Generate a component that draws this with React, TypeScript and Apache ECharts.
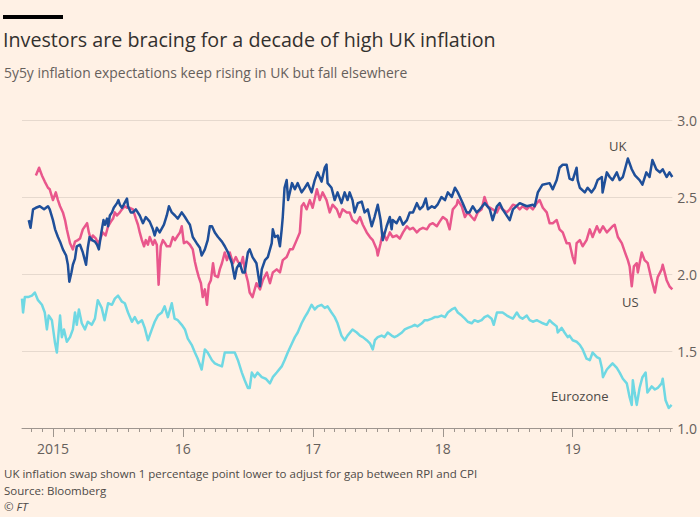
import React, { useEffect, useRef } from "react";
import * as echarts from "echarts";

// 5y5y forward inflation swap rates, %
const ukSeries: [string, number][] = [
  ["2014-10-25", 2.35], ["2014-10-30", 2.3], ["2014-11-06", 2.42], ["2014-11-14", 2.43], ["2014-11-25", 2.44],
  ["2014-12-07", 2.42], ["2014-12-18", 2.44], ["2014-12-23", 2.42], ["2015-01-01", 2.35], ["2015-01-07", 2.29],
  ["2015-01-15", 2.24], ["2015-01-21", 2.21], ["2015-01-29", 2.16], ["2015-02-07", 2.12], ["2015-02-12", 2.06],
  ["2015-02-16", 1.95], ["2015-02-22", 2.01], ["2015-02-26", 2.06], ["2015-03-04", 2.1], ["2015-03-09", 2.18],
  ["2015-03-18", 2.19], ["2015-03-26", 2.14], ["2015-04-04", 2.06], ["2015-04-09", 2.17], ["2015-04-14", 2.24],
  ["2015-04-21", 2.22], ["2015-04-29", 2.21], ["2015-05-05", 2.19], ["2015-05-10", 2.16], ["2015-05-17", 2.27],
  ["2015-05-23", 2.35], ["2015-05-27", 2.32], ["2015-06-02", 2.36], ["2015-06-05", 2.31], ["2015-06-10", 2.38],
  ["2015-06-16", 2.4], ["2015-06-21", 2.43], ["2015-06-30", 2.46], ["2015-07-04", 2.48], ["2015-07-08", 2.45],
  ["2015-07-14", 2.43], ["2015-07-19", 2.45], ["2015-07-28", 2.49], ["2015-07-31", 2.44], ["2015-08-08", 2.4],
  ["2015-08-14", 2.4], ["2015-08-22", 2.42], ["2015-09-02", 2.38], ["2015-09-11", 2.33], ["2015-09-19", 2.37],
  ["2015-09-30", 2.34], ["2015-10-09", 2.29], ["2015-10-14", 2.25], ["2015-10-20", 2.3], ["2015-10-28", 2.27],
  ["2015-11-09", 2.32], ["2015-11-17", 2.38], ["2015-11-23", 2.44], ["2015-12-01", 2.4], ["2015-12-10", 2.38],
  ["2015-12-18", 2.36], ["2015-12-29", 2.4], ["2016-01-07", 2.37], ["2016-01-15", 2.34], ["2016-01-21", 2.32],
  ["2016-01-29", 2.24], ["2016-02-09", 2.2], ["2016-02-18", 2.17], ["2016-02-23", 2.12], ["2016-03-03", 2.16],
  ["2016-03-11", 2.22], ["2016-03-17", 2.31], ["2016-03-23", 2.31], ["2016-03-31", 2.27], ["2016-04-09", 2.24],
  ["2016-04-20", 2.21], ["2016-04-28", 2.18], ["2016-05-07", 2.14], ["2016-05-18", 2.07], ["2016-05-26", 1.97],
  ["2016-06-01", 2.04], ["2016-06-09", 2.07], ["2016-06-17", 2.01], ["2016-06-23", 2.01], ["2016-07-02", 2.14],
  ["2016-07-07", 2.16], ["2016-07-15", 2.11], ["2016-07-26", 2.07], ["2016-08-05", 1.92], ["2016-08-10", 2.03],
  ["2016-08-19", 2.09], ["2016-08-27", 2.11], ["2016-09-07", 2.2], ["2016-09-10", 2.29], ["2016-09-16", 2.24],
  ["2016-09-24", 2.25], ["2016-09-30", 2.18], ["2016-10-05", 2.29], ["2016-10-08", 2.37], ["2016-10-13", 2.56],
  ["2016-10-19", 2.61], ["2016-10-23", 2.48], ["2016-11-03", 2.59], ["2016-11-11", 2.55], ["2016-11-19", 2.59],
  ["2016-11-30", 2.53], ["2016-12-09", 2.56], ["2016-12-17", 2.59], ["2016-12-28", 2.53], ["2017-01-06", 2.61],
  ["2017-01-14", 2.66], ["2017-01-25", 2.6], ["2017-02-03", 2.69], ["2017-02-08", 2.71], ["2017-02-11", 2.59],
  ["2017-02-22", 2.56], ["2017-03-03", 2.48], ["2017-03-11", 2.53], ["2017-03-22", 2.46], ["2017-03-31", 2.53],
  ["2017-04-08", 2.48], ["2017-04-14", 2.53], ["2017-04-22", 2.48], ["2017-04-28", 2.4], ["2017-05-07", 2.46],
  ["2017-05-18", 2.47], ["2017-05-26", 2.4], ["2017-06-04", 2.42], ["2017-06-15", 2.31], ["2017-06-23", 2.37],
  ["2017-07-02", 2.45], ["2017-07-10", 2.35], ["2017-07-16", 2.22], ["2017-07-27", 2.31], ["2017-08-05", 2.37],
  ["2017-08-10", 2.29], ["2017-08-13", 2.35], ["2017-08-24", 2.33], ["2017-09-02", 2.37], ["2017-09-11", 2.32],
  ["2017-09-22", 2.35], ["2017-09-30", 2.4], ["2017-10-09", 2.4], ["2017-10-20", 2.46], ["2017-10-28", 2.42],
  ["2017-11-06", 2.44], ["2017-11-14", 2.49], ["2017-11-20", 2.42], ["2017-12-01", 2.44], ["2017-12-09", 2.43],
  ["2017-12-17", 2.45], ["2017-12-28", 2.5], ["2018-01-07", 2.48], ["2018-01-15", 2.53], ["2018-01-26", 2.5],
  ["2018-02-04", 2.56], ["2018-02-12", 2.53], ["2018-02-18", 2.5], ["2018-02-26", 2.46], ["2018-03-09", 2.4],
  ["2018-03-17", 2.4], ["2018-03-26", 2.44], ["2018-04-06", 2.4], ["2018-04-15", 2.42], ["2018-04-29", 2.46],
  ["2018-05-13", 2.42], ["2018-05-21", 2.35], ["2018-06-02", 2.44], ["2018-06-10", 2.46], ["2018-06-18", 2.42],
  ["2018-07-08", 2.35], ["2018-07-17", 2.42], ["2018-08-05", 2.46], ["2018-08-25", 2.44], ["2018-09-11", 2.45],
  ["2018-09-16", 2.44], ["2018-09-25", 2.53], ["2018-09-30", 2.55], ["2018-10-08", 2.58], ["2018-10-28", 2.59],
  ["2018-11-06", 2.55], ["2018-11-17", 2.61], ["2018-11-25", 2.69], ["2018-12-04", 2.71], ["2018-12-15", 2.71],
  ["2018-12-23", 2.62], ["2019-01-01", 2.61], ["2019-01-12", 2.69], ["2019-01-15", 2.61], ["2019-01-21", 2.56],
  ["2019-02-04", 2.53], ["2019-02-12", 2.56], ["2019-02-23", 2.53], ["2019-03-04", 2.56], ["2019-03-12", 2.61],
  ["2019-03-24", 2.63], ["2019-03-26", 2.53], ["2019-04-07", 2.66], ["2019-04-15", 2.63], ["2019-04-23", 2.61],
  ["2019-05-05", 2.66], ["2019-05-13", 2.61], ["2019-05-22", 2.63], ["2019-06-05", 2.75], ["2019-06-16", 2.68],
  ["2019-06-25", 2.64], ["2019-07-08", 2.61], ["2019-07-16", 2.58], ["2019-07-27", 2.66], ["2019-08-05", 2.63],
  ["2019-08-13", 2.74], ["2019-08-24", 2.68], ["2019-09-03", 2.66], ["2019-09-11", 2.68], ["2019-09-22", 2.63],
  ["2019-09-30", 2.66], ["2019-10-08", 2.63],
];

const usSeries: [string, number][] = [
  ["2014-11-14", 2.64], ["2014-11-23", 2.69], ["2014-12-01", 2.64], ["2014-12-09", 2.6], ["2014-12-18", 2.56],
  ["2014-12-23", 2.55], ["2015-01-01", 2.48], ["2015-01-09", 2.53], ["2015-01-15", 2.48], ["2015-01-21", 2.44],
  ["2015-01-29", 2.4], ["2015-02-04", 2.35], ["2015-02-09", 2.29], ["2015-02-18", 2.2], ["2015-02-26", 2.16],
  ["2015-03-04", 2.21], ["2015-03-12", 2.22], ["2015-03-18", 2.23], ["2015-03-26", 2.29], ["2015-04-07", 2.33],
  ["2015-04-12", 2.27], ["2015-04-18", 2.22], ["2015-04-23", 2.25], ["2015-05-02", 2.23], ["2015-05-07", 2.2],
  ["2015-05-13", 2.22], ["2015-05-21", 2.27], ["2015-05-29", 2.25], ["2015-06-05", 2.31], ["2015-06-13", 2.34],
  ["2015-06-19", 2.36], ["2015-06-24", 2.4], ["2015-06-30", 2.38], ["2015-07-08", 2.4], ["2015-07-14", 2.42],
  ["2015-07-22", 2.44], ["2015-07-28", 2.43], ["2015-08-05", 2.43], ["2015-08-14", 2.42], ["2015-08-22", 2.36],
  ["2015-08-28", 2.32], ["2015-09-02", 2.27], ["2015-09-08", 2.22], ["2015-09-14", 2.18], ["2015-09-19", 2.22],
  ["2015-09-25", 2.19], ["2015-09-30", 2.24], ["2015-10-09", 2.19], ["2015-10-14", 2.22], ["2015-10-20", 2.19],
  ["2015-10-25", 1.93], ["2015-10-31", 2.18], ["2015-11-06", 2.22], ["2015-11-12", 2.2], ["2015-11-17", 2.18],
  ["2015-11-26", 2.18], ["2015-12-04", 2.24], ["2015-12-10", 2.22], ["2015-12-18", 2.25], ["2015-12-24", 2.27],
  ["2015-12-29", 2.31], ["2016-01-04", 2.2], ["2016-01-12", 2.21], ["2016-01-21", 2.19], ["2016-01-29", 2.16],
  ["2016-02-04", 2.08], ["2016-02-09", 2.03], ["2016-02-15", 1.98], ["2016-02-21", 1.94], ["2016-02-26", 1.85],
  ["2016-03-03", 1.9], ["2016-03-09", 1.8], ["2016-03-14", 1.93], ["2016-03-20", 1.96], ["2016-03-26", 2.07],
  ["2016-03-31", 1.99], ["2016-04-09", 1.98], ["2016-04-14", 2.03], ["2016-04-20", 2.07], ["2016-04-28", 2.14],
  ["2016-05-04", 2.09], ["2016-05-12", 2.14], ["2016-05-21", 2.07], ["2016-05-29", 2.11], ["2016-06-04", 2.08],
  ["2016-06-12", 2.06], ["2016-06-18", 2.11], ["2016-06-23", 2.03], ["2016-07-02", 1.95], ["2016-07-07", 1.88],
  ["2016-07-15", 1.85], ["2016-07-26", 1.94], ["2016-08-05", 1.9], ["2016-08-13", 1.96], ["2016-08-24", 2.01],
  ["2016-09-02", 1.94], ["2016-09-10", 2.01], ["2016-09-21", 2.03], ["2016-09-30", 2.01], ["2016-10-08", 2.09],
  ["2016-10-19", 2.11], ["2016-10-28", 2.16], ["2016-11-05", 2.16], ["2016-11-16", 2.22], ["2016-11-25", 2.27],
  ["2016-11-30", 2.44], ["2016-12-06", 2.46], ["2016-12-14", 2.42], ["2016-12-23", 2.48], ["2016-12-31", 2.43],
  ["2017-01-12", 2.55], ["2017-01-20", 2.48], ["2017-01-28", 2.53], ["2017-02-08", 2.48], ["2017-02-17", 2.4],
  ["2017-02-25", 2.45], ["2017-03-09", 2.42], ["2017-03-17", 2.37], ["2017-03-25", 2.42], ["2017-04-06", 2.4],
  ["2017-04-14", 2.4], ["2017-04-22", 2.35], ["2017-05-04", 2.33], ["2017-05-13", 2.37], ["2017-05-21", 2.32],
  ["2017-06-01", 2.27], ["2017-06-10", 2.24], ["2017-06-18", 2.22], ["2017-06-29", 2.16], ["2017-07-02", 2.12],
  ["2017-07-10", 2.2], ["2017-07-16", 2.27], ["2017-07-27", 2.22], ["2017-08-05", 2.27], ["2017-08-13", 2.24],
  ["2017-08-24", 2.25], ["2017-09-02", 2.23], ["2017-09-11", 2.27], ["2017-09-22", 2.31], ["2017-09-30", 2.29],
  ["2017-10-09", 2.3], ["2017-10-20", 2.27], ["2017-10-28", 2.29], ["2017-11-06", 2.3], ["2017-11-17", 2.29],
  ["2017-11-25", 2.32], ["2017-12-04", 2.33], ["2017-12-15", 2.31], ["2017-12-23", 2.34], ["2018-01-01", 2.37],
  ["2018-01-12", 2.35], ["2018-01-20", 2.29], ["2018-01-29", 2.42], ["2018-02-09", 2.45], ["2018-02-12", 2.48],
  ["2018-02-23", 2.44], ["2018-03-04", 2.37], ["2018-03-12", 2.4], ["2018-03-23", 2.37], ["2018-03-31", 2.35],
  ["2018-04-09", 2.4], ["2018-04-20", 2.42], ["2018-04-28", 2.5], ["2018-05-07", 2.44], ["2018-05-21", 2.42],
  ["2018-06-02", 2.4], ["2018-06-10", 2.44], ["2018-06-18", 2.42], ["2018-06-30", 2.4], ["2018-07-08", 2.42],
  ["2018-07-17", 2.45], ["2018-07-28", 2.44], ["2018-08-05", 2.42], ["2018-08-13", 2.44], ["2018-08-25", 2.42],
  ["2018-09-02", 2.44], ["2018-09-11", 2.42], ["2018-09-22", 2.46], ["2018-09-30", 2.48], ["2018-10-09", 2.43],
  ["2018-10-20", 2.4], ["2018-10-28", 2.33], ["2018-11-06", 2.33], ["2018-11-17", 2.35], ["2018-11-25", 2.29],
  ["2018-12-04", 2.27], ["2018-12-15", 2.2], ["2018-12-23", 2.2], ["2019-01-01", 2.11], ["2019-01-07", 2.07],
  ["2019-01-12", 2.2], ["2019-01-21", 2.22], ["2019-01-29", 2.18], ["2019-02-09", 2.22], ["2019-02-18", 2.29],
  ["2019-02-26", 2.24], ["2019-03-10", 2.31], ["2019-03-18", 2.27], ["2019-03-27", 2.31], ["2019-04-07", 2.27],
  ["2019-04-15", 2.29], ["2019-04-23", 2.31], ["2019-04-29", 2.32], ["2019-05-08", 2.24], ["2019-05-19", 2.2],
  ["2019-05-28", 2.14], ["2019-06-05", 2.09], ["2019-06-10", 2.05], ["2019-06-16", 1.92], ["2019-06-22", 2.05],
  ["2019-06-30", 2.07], ["2019-07-03", 2.01], ["2019-07-14", 2.14], ["2019-07-22", 2.09], ["2019-07-31", 2.07],
  ["2019-08-06", 2.01], ["2019-08-11", 1.96], ["2019-08-20", 1.88], ["2019-08-28", 1.98], ["2019-09-08", 2.03],
  ["2019-09-11", 2.06], ["2019-09-22", 1.96], ["2019-09-30", 1.92], ["2019-10-08", 1.9],
];

const eurozoneSeries: [string, number][] = [
  ["2014-10-06", 1.84], ["2014-10-09", 1.75], ["2014-10-14", 1.85], ["2014-10-23", 1.85], ["2014-11-03", 1.86],
  ["2014-11-11", 1.88], ["2014-11-20", 1.83], ["2014-12-01", 1.8], ["2014-12-09", 1.75], ["2014-12-15", 1.64],
  ["2014-12-20", 1.73], ["2014-12-29", 1.7], ["2015-01-07", 1.55], ["2015-01-12", 1.49], ["2015-01-21", 1.73],
  ["2015-01-26", 1.59], ["2015-02-01", 1.64], ["2015-02-09", 1.56], ["2015-02-18", 1.59], ["2015-02-26", 1.64],
  ["2015-03-04", 1.75], ["2015-03-09", 1.67], ["2015-03-15", 1.77], ["2015-03-23", 1.68], ["2015-04-01", 1.64],
  ["2015-04-09", 1.69], ["2015-04-20", 1.67], ["2015-04-29", 1.71], ["2015-05-07", 1.83], ["2015-05-18", 1.78],
  ["2015-05-26", 1.7], ["2015-06-05", 1.81], ["2015-06-16", 1.8], ["2015-06-24", 1.84], ["2015-07-03", 1.86],
  ["2015-07-14", 1.82], ["2015-07-22", 1.81], ["2015-07-31", 1.75], ["2015-08-11", 1.69], ["2015-08-19", 1.72],
  ["2015-08-28", 1.68], ["2015-09-08", 1.7], ["2015-09-16", 1.65], ["2015-09-25", 1.57], ["2015-10-06", 1.64],
  ["2015-10-14", 1.69], ["2015-10-23", 1.73], ["2015-11-03", 1.75], ["2015-11-11", 1.79], ["2015-11-20", 1.72],
  ["2015-12-01", 1.81], ["2015-12-09", 1.71], ["2015-12-18", 1.7], ["2015-12-29", 1.67], ["2016-01-07", 1.64],
  ["2016-01-15", 1.58], ["2016-01-26", 1.54], ["2016-02-04", 1.49], ["2016-02-12", 1.45], ["2016-02-23", 1.38],
  ["2016-03-03", 1.51], ["2016-03-11", 1.49], ["2016-03-23", 1.44], ["2016-03-31", 1.42], ["2016-04-09", 1.41],
  ["2016-04-20", 1.4], ["2016-04-28", 1.49], ["2016-05-07", 1.49], ["2016-05-18", 1.49], ["2016-05-26", 1.49],
  ["2016-06-04", 1.44], ["2016-06-15", 1.36], ["2016-06-23", 1.31], ["2016-07-02", 1.26], ["2016-07-07", 1.26],
  ["2016-07-13", 1.36], ["2016-07-21", 1.33], ["2016-07-29", 1.36], ["2016-08-10", 1.33], ["2016-08-21", 1.32],
  ["2016-09-02", 1.29], ["2016-09-10", 1.33], ["2016-09-21", 1.36], ["2016-10-05", 1.4], ["2016-10-13", 1.44],
  ["2016-10-22", 1.49], ["2016-11-03", 1.55], ["2016-11-11", 1.59], ["2016-11-19", 1.62], ["2016-11-30", 1.68],
  ["2016-12-09", 1.72], ["2016-12-17", 1.75], ["2016-12-28", 1.8], ["2017-01-06", 1.77], ["2017-01-14", 1.79],
  ["2017-01-25", 1.8], ["2017-02-03", 1.78], ["2017-02-11", 1.79], ["2017-02-22", 1.75], ["2017-03-03", 1.72],
  ["2017-03-11", 1.68], ["2017-03-22", 1.6], ["2017-03-31", 1.57], ["2017-04-08", 1.6], ["2017-04-22", 1.64],
  ["2017-05-04", 1.62], ["2017-05-13", 1.6], ["2017-05-21", 1.59], ["2017-06-01", 1.57], ["2017-06-10", 1.55],
  ["2017-06-18", 1.51], ["2017-06-24", 1.57], ["2017-07-02", 1.59], ["2017-07-13", 1.6], ["2017-07-21", 1.59],
  ["2017-07-30", 1.62], ["2017-08-10", 1.6], ["2017-08-18", 1.59], ["2017-08-27", 1.6], ["2017-09-08", 1.62],
  ["2017-09-16", 1.64], ["2017-09-25", 1.65], ["2017-10-06", 1.66], ["2017-10-14", 1.67], ["2017-10-22", 1.66],
  ["2017-11-03", 1.68], ["2017-11-11", 1.7], ["2017-11-20", 1.7], ["2017-12-01", 1.71], ["2017-12-09", 1.72],
  ["2017-12-17", 1.72], ["2017-12-28", 1.73], ["2018-01-07", 1.72], ["2018-01-15", 1.75], ["2018-01-26", 1.77],
  ["2018-02-04", 1.78], ["2018-02-12", 1.75], ["2018-02-23", 1.73], ["2018-03-04", 1.71], ["2018-03-12", 1.69],
  ["2018-03-23", 1.68], ["2018-03-31", 1.7], ["2018-04-09", 1.69], ["2018-04-20", 1.7], ["2018-04-28", 1.72],
  ["2018-05-07", 1.73], ["2018-05-18", 1.71], ["2018-05-24", 1.67], ["2018-06-02", 1.75], ["2018-06-10", 1.75],
  ["2018-06-18", 1.75], ["2018-06-30", 1.73], ["2018-07-08", 1.72], ["2018-07-17", 1.71], ["2018-07-28", 1.75],
  ["2018-08-05", 1.72], ["2018-08-13", 1.71], ["2018-08-25", 1.73], ["2018-09-02", 1.7], ["2018-09-11", 1.69],
  ["2018-09-22", 1.7], ["2018-09-30", 1.69], ["2018-10-09", 1.68], ["2018-10-20", 1.67], ["2018-10-28", 1.7],
  ["2018-11-06", 1.68], ["2018-11-17", 1.66], ["2018-11-20", 1.62], ["2018-12-01", 1.65], ["2018-12-09", 1.62],
  ["2018-12-18", 1.59], ["2018-12-23", 1.6], ["2019-01-01", 1.57], ["2019-01-12", 1.56], ["2019-01-21", 1.54],
  ["2019-01-29", 1.51], ["2019-02-09", 1.45], ["2019-02-18", 1.44], ["2019-02-26", 1.49], ["2019-03-10", 1.46],
  ["2019-03-18", 1.45], ["2019-03-24", 1.39], ["2019-03-27", 1.33], ["2019-04-07", 1.38], ["2019-04-15", 1.4],
  ["2019-04-23", 1.42], ["2019-05-05", 1.39], ["2019-05-13", 1.36], ["2019-05-22", 1.32], ["2019-06-02", 1.29],
  ["2019-06-10", 1.2], ["2019-06-16", 1.15], ["2019-06-19", 1.31], ["2019-06-24", 1.23], ["2019-06-30", 1.15],
  ["2019-07-08", 1.26], ["2019-07-16", 1.33], ["2019-07-25", 1.36], ["2019-07-30", 1.23], ["2019-08-11", 1.27],
  ["2019-08-20", 1.25], ["2019-08-28", 1.26], ["2019-09-08", 1.29], ["2019-09-11", 1.32], ["2019-09-19", 1.18],
  ["2019-09-28", 1.13], ["2019-10-06", 1.15],
];

const yearTicks = ["2015-01-01", "2016-01-01", "2017-01-01", "2018-01-01", "2019-01-01"];
const yearLabels = ["2015", "16", "17", "18", "19"];
const yAxisTicks = [1.0, 1.5, 2.0, 2.5, 3.0];
const axisStart = "2014-10-06";
const axisEnd = "2019-10-08";

const FONT = "'Open Sans', 'Noto Sans', sans-serif";
const GREY = "#66605c";
const INK = "#33302e";
const NOTE = "#4e4a47";

// dates are plotted as UTC timestamps on a numeric axis
const ts = (d: string) => Date.parse(d + "T00:00:00Z");

function monthStarts(): number[] {
  const out: number[] = [];
  const lo = ts(axisStart);
  const hi = ts(axisEnd);
  for (let y = 2014; y <= 2019; y++) {
    for (let m = 0; m < 12; m++) {
      const t = Date.UTC(y, m, 1);
      if (t > lo && t <= hi) out.push(t);
    }
  }
  return out;
}

const toPoints = (rows: [string, number][]) => rows.map(([d, v]) => [ts(d), v]);

export default function App() {
  const ref = useRef<HTMLDivElement>(null);

  useEffect(() => {
    document.body.style.margin = "0";
    document.body.style.background = "#fff1e5";
    if (!ref.current) return;
    const chart = echarts.init(ref.current, undefined, { renderer: "svg" });

    const yearStamps = yearTicks.map(ts);
    const yearLabelFor = (val: number) => {
      const idx = yearStamps.findIndex((t) => Math.abs(t - val) < 86400000);
      return idx >= 0 ? yearLabels[idx] : "";
    };

    const lineSeries = (name: string, data: [string, number][], color: string) => ({
      name,
      type: "line",
      data: toPoints(data),
      showSymbol: false,
      symbol: "none",
      smooth: false,
      lineStyle: { color, width: 2.5, join: "round" },
      itemStyle: { color },
      xAxisIndex: 0,
      yAxisIndex: 0,
    });

    chart.setOption({
      animation: false,
      backgroundColor: "#fff1e5",
      grid: { left: 22, right: 27, top: 120, bottom: 89, containLabel: false },
      xAxis: [
        {
          type: "value",
          min: ts(axisStart),
          max: ts(axisEnd),
          axisLine: { show: true, lineStyle: { color: "#9e958e", width: 1 } },
          axisTick: {
            show: true,
            length: 4,
            lineStyle: { color: "#9e958e", width: 1 },
            customValues: monthStarts(),
          },
          axisLabel: {
            show: true,
            customValues: yearStamps,
            formatter: (v: number) => yearLabelFor(v),
            color: GREY,
            fontSize: 14,
            fontFamily: FONT,
            margin: 13,
          },
          splitLine: { show: false },
        },
        {
          type: "value",
          min: ts(axisStart),
          max: ts(axisEnd),
          position: "bottom",
          axisLine: { show: false },
          axisTick: {
            show: true,
            length: 9,
            lineStyle: { color: "#9e958e", width: 1 },
            customValues: yearStamps,
          },
          axisLabel: { show: false },
          splitLine: { show: false },
        },
      ],
      yAxis: {
        type: "value",
        position: "right",
        min: 1,
        max: 3,
        interval: 0.5,
        axisLine: { show: false },
        axisTick: { show: false },
        axisLabel: {
          formatter: (v: number) => (yAxisTicks.includes(v) ? v.toFixed(1) : ""),
          color: GREY,
          fontSize: 14,
          fontFamily: FONT,
          margin: 5,
        },
        splitLine: { show: true, lineStyle: { color: "#e6d9ce", width: 1 } },
      },
      series: [
        lineSeries("Eurozone", eurozoneSeries, "#6fd8e3"),
        lineSeries("US", usSeries, "#e9578c"),
        lineSeries("UK", ukSeries, "#1f4f99"),
      ],
      graphic: [
        { type: "rect", left: 3, top: 15, shape: { width: 60, height: 4 }, style: { fill: "#000000" } },
        {
          type: "text",
          left: 3,
          top: 29,
          style: {
            text: "Investors are bracing for a decade of high UK inflation",
            font: `19.7px ${FONT}`,
            fill: INK,
          },
        },
        {
          type: "text",
          left: 4,
          top: 65,
          style: {
            text: "5y5y inflation expectations keep rising in UK but fall elsewhere",
            font: `13.9px ${FONT}`,
            fill: GREY,
          },
        },
        { type: "text", left: 609, top: 139, style: { text: "UK", font: `13px ${FONT}`, fill: NOTE } },
        { type: "text", left: 622, top: 295, style: { text: "US", font: `13px ${FONT}`, fill: NOTE } },
        { type: "text", left: 551, top: 389, style: { text: "Eurozone", font: `13px ${FONT}`, fill: NOTE } },
        {
          type: "text",
          left: 4,
          top: 467,
          style: {
            text: "UK inflation swap shown 1 percentage point lower to adjust for gap between RPI and CPI",
            font: `11.5px ${FONT}`,
            fill: NOTE,
          },
        },
        { type: "text", left: 4, top: 484, style: { text: "Source: Bloomberg", font: `11.5px ${FONT}`, fill: NOTE } },
        { type: "text", left: 4, top: 500, style: { text: "© FT", font: `italic 11.5px ${FONT}`, fill: NOTE } },
      ],
    });

    return () => chart.dispose();
  }, []);

  return (
    <div
      ref={ref}
      style={{ position: "fixed", left: 0, top: 0, width: 700, height: 517, background: "#fff1e5" }}
    />
  );
}
